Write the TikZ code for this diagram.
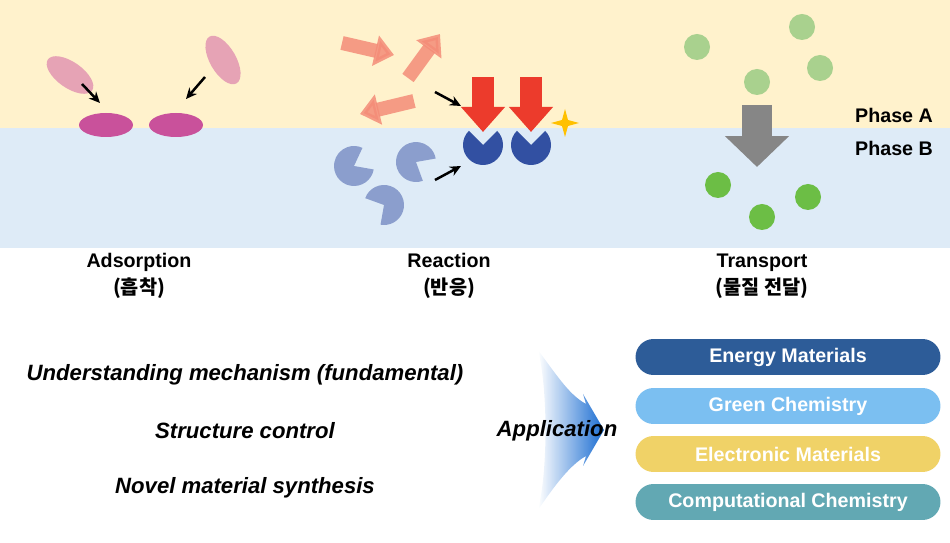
\documentclass[tikz,border=0pt]{standalone}
\usepackage{fontspec}
\setmainfont{Liberation Sans}
\newfontfamily\kor{Noto Sans CJK KR}
\usetikzlibrary{arrows.meta,shapes.geometric}
\definecolor{phaseA}{HTML}{FFF2CC}
\definecolor{phaseB}{HTML}{DEEBF7}
\definecolor{adsLight}{HTML}{E6A3B5}
\definecolor{adsDark}{HTML}{C9519B}
\definecolor{reactLight}{HTML}{F48C78}
\definecolor{reactRed}{HTML}{EC3B2C}
\definecolor{pacDark}{HTML}{3250A2}
\definecolor{pacLight}{HTML}{8B9ECD}
\definecolor{starGold}{HTML}{FFC000}
\definecolor{grnLight}{HTML}{A9D18E}
\definecolor{grnDark}{HTML}{6CBE45}
\definecolor{pillEnergy}{HTML}{2D5C98}
\definecolor{pillGreen}{HTML}{7BBFF1}
\definecolor{pillElec}{HTML}{F0D267}
\definecolor{pillComp}{HTML}{62A8B3}
\tikzset{
  label/.style={font=\bfseries\fontsize{11.2}{15.5}\selectfont, align=center},
  goal/.style={font=\bfseries\itshape\fontsize{12.6}{15}\selectfont},
  pill/.style={rounded corners=0.36cm, minimum width=6.1cm, minimum height=0.72cm,
    text=white, font=\bfseries\fontsize{11.2}{13}\selectfont},
  small arrow/.style={line width=0.05cm, -{Stealth[length=0.22cm,width=0.2cm]}},
}
\begin{document}
\begin{tikzpicture}[x=0.02cm,y=-0.02cm]
  \useasboundingbox (0,0) rectangle (950,543);
  % phases
  \fill [phaseA] (0,0) rectangle (950,128);
  \fill [phaseB] (0,128) rectangle (950,248);
  \node [font=\bfseries\fontsize{11.2}{13}\selectfont] (phA) at (894,115) {Phase A};
  \node [font=\bfseries\fontsize{11.2}{13}\selectfont] (phB) at (894,148) {Phase B};

  % adsorption
  \fill [adsLight, rotate around={-35:(70,75)}] (70,75) ellipse (27 and 13);
  \fill [adsLight, rotate around={-60:(223,60)}] (223,60) ellipse (27 and 13);
  \fill [adsDark] (106,125) ellipse (27 and 12);
  \fill [adsDark] (176,125) ellipse (27 and 12);
  \coordinate (a1) at (82,84);  \coordinate (a2) at (100,103);
  \coordinate (a3) at (205,77); \coordinate (a4) at (186,99);
  \draw [small arrow] (a1) -- (a2);
  \draw [small arrow] (a3) -- (a4);

  % reaction
  \begin{scope}[reactLight, opacity=0.85, line width=0.28cm, -{Triangle[length=0.38cm,width=0.6cm]}]
    \draw (342,43) -- (394,55);
    \draw (408,78) -- (440,34);
    \draw (414,101) -- (360,114);
  \end{scope}
  \foreach \x in {483,531} {
    \fill [pacDark] (\x,145) -- ++(-45:20) arc (-45:225:20) -- cycle;
    \draw [reactRed, line width=0.44cm, -{Triangle[length=0.5cm,width=0.85cm]}] (\x,77) -- (\x,132);
  }
  \fill [starGold] (565,109) -- (568,120) -- (579,123) -- (568,126) -- (565,137)
    -- (562,126) -- (551,123) -- (562,120) -- cycle;
  \fill [pacLight] (354,166) -- ++(10:20) arc (10:295:20) -- cycle;
  \fill [pacLight] (416,162) -- ++(70:20) arc (70:350:20) -- cycle;
  \fill [pacLight] (384,205) -- ++(-160:20) arc (-160:100:20) -- cycle;
  \coordinate (r1) at (435,92);  \coordinate (r2) at (461,106);
  \coordinate (r3) at (435,180); \coordinate (r4) at (461,166);
  \draw [small arrow] (r1) -- (r2);
  \draw [small arrow] (r3) -- (r4);

  % transport
  \foreach \p in {(697,47),(802,27),(820,68),(757,82)}
    \fill [grnLight] \p circle (13);
  \foreach \p in {(718,185),(808,197),(762,217)}
    \fill [grnDark] \p circle (13);
  \draw [gray!95, line width=0.6cm, -{Triangle[length=0.62cm,width=1.25cm]}] (757,105) -- (757,167);

  % labels
  \node [label] (ads) at (139,276) {Adsorption\\{\kor (흡착)}};
  \node [label] (rea) at (449,276) {Reaction\\{\kor (반응)}};
  \node [label] (tra) at (762,276) {Transport\\{\kor (물질 전달)}};

  % goals
  \node [goal] (und) at (245,375) {Understanding mechanism (fundamental)};
  \node [goal] (str) at (245,431) {Structure control};
  \node [goal] (nov) at (245,488) {Novel material synthesis};

  % application arrow
  \shade [left color=white, right color=blue!55!cyan!80!black, shading angle=90, opacity=0.9]
    (538,350) .. controls (560,380) and (570,395) .. (586,404) -- (583,394) -- (604,430)
    -- (583,466) -- (586,456) .. controls (570,465) and (555,485) .. (538,510)
    .. controls (548,470) and (548,390) .. (538,350) -- cycle;
  \node [goal] (app) at (557,431) {Application};

  % fields
  \node [pill, fill=pillEnergy] (ene) at (788,357) {Energy Materials};
  \node [pill, fill=pillGreen] (grn) at (788,406) {Green Chemistry};
  \node [pill, fill=pillElec] (ele) at (788,454) {Electronic Materials};
  \node [pill, fill=pillComp] (cmp) at (788,502) {Computational Chemistry};
\end{tikzpicture}
\end{document}
